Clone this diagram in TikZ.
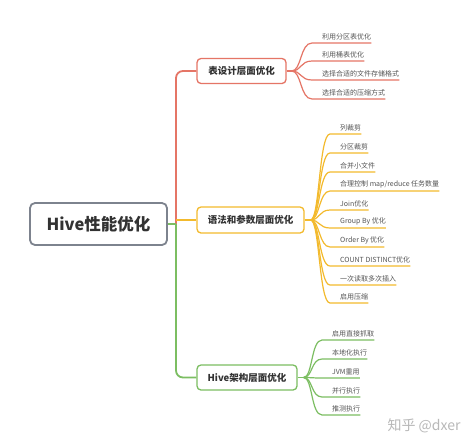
\documentclass[tikz,border=0pt]{standalone}
\usepackage{fontspec}
\setmainfont{Noto Sans CJK SC}
\definecolor{cred}{RGB}{229,117,102}
\definecolor{corange}{RGB}{243,186,45}
\definecolor{cgreen}{RGB}{124,190,98}
\definecolor{cgray}{RGB}{125,131,142}
\definecolor{leafgray}{RGB}{85,85,85}
\definecolor{headgray}{RGB}{50,50,50}
\newcommand\leaftxt[1]{\hspace{10pt}#1\hspace{3pt}}
\begin{document}
\begin{tikzpicture}[x=1pt,y=-1pt,
  rootbox/.style={draw=cgray,line width=1.8pt,rounded corners=5pt,fill=white,
    minimum width=137pt,minimum height=42pt,inner sep=0pt,text=headgray,
    font=\fontsize{16.5}{18}\selectfont\bfseries},
  branchbox/.style={line width=1.3pt,rounded corners=4pt,fill=white,inner sep=0pt,
    minimum height=25pt,text=headgray,font=\fontsize{9.5}{11}\selectfont\bfseries},
  leaf/.style={anchor=south west,inner xsep=0pt,inner ysep=2.5pt,text=leafgray,
    font=\fontsize{7}{8}\selectfont},
  trunk/.style={line width=1.8pt,rounded corners=7pt},
  twig/.style={line width=1.2pt},
]
\useasboundingbox[fill=white] (0,0) rectangle (474,445);

% root and branches
\node[rootbox] (root) at (98.5,224) {Hive性能优化};
\coordinate (T) at (176,224);
\node[branchbox,draw=cred,minimum width=89pt] (b1) at (241.5,71) {表设计层面优化};
\node[branchbox,draw=corange,minimum width=107pt,minimum height=26pt] (b2) at (250.5,220) {语法和参数层面优化};
\node[branchbox,draw=cgreen,minimum width=100pt] (b3) at (247,377.5) {Hive架构层面优化};

\draw[trunk,cred] (T) |- (b1.west);
\draw[trunk,cgreen] (T) |- (b3.west);
\draw[line width=1.8pt,cgreen] (root.east) -- (T);
\draw[line width=1.8pt,corange] (T |- b2.west) -- (b2.west);

% junctions
\coordinate (j1) at ([xshift=5pt]b1.east);
\coordinate (j2) at ([xshift=6pt]b2.east);
\coordinate (j3) at ([xshift=6pt]b3.east);
\draw[twig,cred] (b1.east) -- (j1);
\draw[twig,corange] (b2.east) -- (j2);
\draw[twig,cgreen] (b3.east) -- (j3);

% branch 1 leaves
\node[leaf] (l11) at (312,43) {\leaftxt{利用分区表优化}};
\node[leaf] (l12) at (312,61) {\leaftxt{利用桶表优化}};
\node[leaf] (l13) at (312,80) {\leaftxt{选择合适的文件存储格式}};
\node[leaf] (l14) at (312,99) {\leaftxt{选择合适的压缩方式}};
\foreach \l in {l11,l12,l13,l14}
  \draw[twig,cred] (j1) .. controls +(10,0) and +(-12,0) .. (\l.south west) -- (\l.south east);

% branch 2 leaves
\node[leaf] (l21) at (330,134) {\leaftxt{列裁剪}};
\node[leaf] (l22) at (330,153) {\leaftxt{分区裁剪}};
\node[leaf] (l23) at (330,172) {\leaftxt{合并小文件}};
\node[leaf] (l24) at (330,191) {\leaftxt{合理控制 map/reduce 任务数量}};
\node[leaf] (l25) at (330,210) {\leaftxt{Join优化}};
\node[leaf] (l26) at (330,228) {\leaftxt{Group By 优化}};
\node[leaf] (l27) at (330,247) {\leaftxt{Order By 优化}};
\node[leaf] (l28) at (330,266) {\leaftxt{COUNT DISTINCT优化}};
\node[leaf] (l29) at (330,285) {\leaftxt{一次读取多次插入}};
\node[leaf] (l210) at (330,303) {\leaftxt{启用压缩}};
\foreach \l in {l21,l22,l23,l24,l25,l26,l27,l28,l29,l210}
  \draw[twig,corange] (j2) .. controls +(9,0) and +(-11,0) .. (\l.south west) -- (\l.south east);

% branch 3 leaves
\node[leaf] (l31) at (322,340) {\leaftxt{启用直接抓取}};
\node[leaf] (l32) at (322,359) {\leaftxt{本地化执行}};
\node[leaf] (l33) at (322,378) {\leaftxt{JVM重用}};
\node[leaf] (l34) at (322,397) {\leaftxt{并行执行}};
\node[leaf] (l35) at (322,415) {\leaftxt{推测执行}};
\foreach \l in {l31,l32,l33,l34,l35}
  \draw[twig,cgreen] (j3) .. controls +(9,0) and +(-11,0) .. (\l.south west) -- (\l.south east);

% watermark
\node[text=black!28,font=\fontsize{14}{16}\selectfont] (wm) at (424,426) {知乎 @dxer};
\end{tikzpicture}
\end{document}
